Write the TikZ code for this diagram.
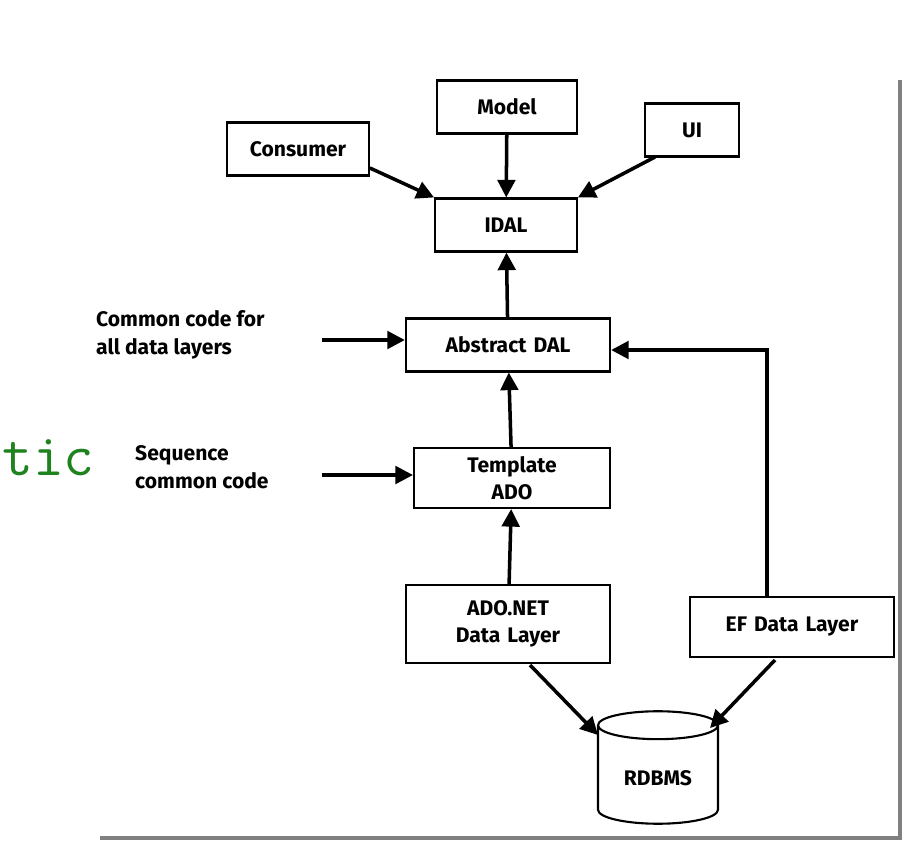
\documentclass[tikz,border=0pt]{standalone}
\usepackage{fontspec}
\setmainfont{Fira Sans}
\usetikzlibrary{shapes.geometric,arrows.meta}
\definecolor{verde}{RGB}{30,130,30}

\begin{document}
\begin{tikzpicture}[x=0.02cm,y=-0.02cm,
    caixa/.style={draw, line width=1.2pt, fill=white, align=center, font=\bfseries\fontsize{12}{15}\selectfont},
    nota/.style={align=left, anchor=west, font=\bfseries\fontsize{12}{16}\selectfont},
    seta/.style={-{Triangle[length=10pt,width=10pt]}, line width=2pt}]
    \useasboundingbox (0,0) rectangle (907,850);

    % Moldura
    \draw[line width=2pt, gray] (100,838) -- (900,838) -- (900,80);

    % Camadas
    \node[caixa, text width=2.55cm, minimum height=1.06cm] (model) at (507,107) {Model};
    \node[caixa, text width=2.6cm, minimum height=1.06cm] (consumer) at (298,149) {Consumer};
    \node[caixa, text width=1.65cm, minimum height=1.06cm] (ui) at (692,130) {UI};
    \node[caixa, text width=2.6cm, minimum height=1.06cm] (idal) at (506,225) {IDAL};
    \node[caixa, text width=3.85cm, minimum height=1.06cm] (abs) at (508,345) {Abstract DAL};
    \node[caixa, text width=3.85cm, minimum height=1.2cm, inner sep=1pt] (tpl) at (512,478) {Template\\ADO};
    \node[caixa, text width=3.85cm, minimum height=1.55cm] (adonet) at (508,624) {ADO.NET\\Data Layer};
    \node[caixa, text width=3.85cm, minimum height=1.2cm] (ef) at (792,627) {EF Data Layer};
    \node[draw, line width=1.2pt, cylinder, shape border rotate=90, aspect=0.35, minimum width=2.4cm, minimum height=2.25cm, font=\bfseries\fontsize{12}{14}\selectfont] (db) at (658,778) {RDBMS};

    % Notas
    \node[nota] (nota1) at (90,335) {Common code for\\all data layers};
    \node[nota] (nota2) at (129,467) {Sequence\\common code};
    \node[text=verde, font=\ttfamily\fontsize{34}{34}\selectfont, anchor=west, inner sep=0pt] (tic) at (2,458) {tic};

    % Setas
    \draw[seta] (consumer.east |- 0,168) -- (idal.north west);
    \draw[seta] (model) -- (idal);
    \draw[seta] (655,157) -- (idal.north east);
    \draw[seta] (abs) -- (idal);
    \draw[seta] (tpl) -- (abs);
    \draw[seta] (adonet) -- (tpl);
    \draw[seta] (ef.north -| 767,0) -- (767,350) -- (abs.east |- 0,350);
    \draw[seta] (322,340) -- (abs.west |- 0,340);
    \draw[seta] (322,475) -- (tpl.west |- 0,475);
    \draw[seta] (530,665) -- (598,735);
    \draw[seta] (775,660) -- (710,728);
\end{tikzpicture}
\end{document}
